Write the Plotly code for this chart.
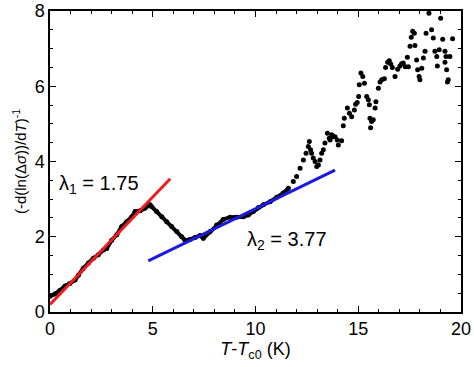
import plotly.graph_objects as go

# Dense low-temperature part of the data
dense_x = [0.0, 0.24, 0.49, 0.73, 0.97, 1.22, 1.38, 1.62, 1.87, 2.11, 2.35, 2.60, 2.76, 3.0,
           3.25, 3.49, 3.73, 3.98, 4.14, 4.38, 4.62, 4.87, 4.95, 5.19, 5.44, 5.68, 5.92, 6.17,
           6.41, 6.57, 6.81, 7.06, 7.30, 7.46, 7.79, 8.11, 8.43, 8.76, 9.08, 9.41, 9.65, 9.89,
           10.14, 10.38, 10.71, 11.03, 11.35, 11.6]
dense_y = [0.42, 0.48, 0.58, 0.69, 0.76, 0.85, 0.98, 1.16, 1.30, 1.43, 1.52, 1.65, 1.69, 1.91,
           2.05, 2.27, 2.40, 2.53, 2.67, 2.69, 2.76, 2.85, 2.80, 2.67, 2.53, 2.40, 2.27, 2.14,
           2.0, 1.91, 1.93, 1.98, 2.03, 1.96, 2.14, 2.31, 2.46, 2.52, 2.52, 2.53, 2.58, 2.67,
           2.78, 2.85, 2.93, 3.05, 3.16, 3.29]

# Sparse high-temperature points
sparse_x = [11.84, 12.0, 12.17, 12.33, 12.46, 12.57, 12.62, 12.68, 12.73, 12.81, 12.90, 12.98,
            13.06, 13.14, 13.22, 13.30, 13.38, 13.50, 13.59, 13.63, 13.71, 13.79, 13.87, 13.98,
            14.03, 14.19, 14.27, 14.32, 14.47, 14.57, 14.68, 14.81, 14.87, 14.95, 15.02, 15.05,
            15.13, 15.22, 15.30, 15.41, 15.49, 15.54, 15.57, 15.60, 15.65, 15.73, 15.82, 15.86,
            15.98, 16.06, 16.14, 16.27, 16.33, 16.43, 16.51, 16.58, 16.66, 16.79, 16.92, 17.03,
            17.11, 17.19, 17.29, 17.39, 17.44, 17.52, 17.58, 17.65, 17.73, 17.76, 17.84, 17.89,
            17.96, 18.0, 18.09, 18.17, 18.25, 18.30, 18.44, 18.57, 18.65, 18.73, 18.82, 18.85,
            18.94, 19.01, 19.11, 19.22, 19.27, 19.30, 19.22, 19.34, 19.38, 19.46, 19.59]
sparse_y = [3.47, 3.60, 3.82, 4.04, 4.22, 4.40, 4.53, 4.31, 4.22, 4.09, 4.00, 3.87,
            3.91, 4.04, 4.22, 4.31, 4.49, 4.75, 4.62, 4.57, 4.71, 4.66, 4.66, 4.57,
            4.44, 4.55, 4.95, 5.15, 5.42, 5.28, 5.19, 5.37, 5.52, 5.57, 5.73, 6.04,
            6.35, 6.26, 6.08, 5.73, 5.64, 5.51, 5.15, 4.90, 5.06, 5.11, 5.42, 5.59,
            5.95, 6.11, 6.17, 6.20, 6.50, 6.64, 6.68, 6.59, 6.50, 6.26, 6.45, 6.54,
            6.60, 6.62, 6.52, 6.77, 6.52, 7.06, 7.30, 7.46, 7.41, 7.08, 6.70, 6.44,
            6.26, 6.17, 6.48, 6.75, 6.93, 7.41, 7.94, 7.50, 7.28, 6.93, 6.79, 6.54,
            6.97, 7.81, 7.25, 6.93, 6.79, 6.44, 6.64, 6.11, 6.17, 6.79, 7.26]

# Fit lines
lam1 = 1.75
red_x = [0.0, 5.85]
red_y = [0.2 + x / lam1 for x in red_x]
lam2 = 3.77
blue_x = [4.78, 13.87]
blue_y = [1.36 + (x - 4.78) / lam2 for x in blue_x]

fig = go.Figure()
fig.add_trace(go.Scatter(x=dense_x, y=dense_y, mode="lines+markers",
                         line=dict(color="black", width=4),
                         marker=dict(color="black", size=5)))
fig.add_trace(go.Scatter(x=sparse_x, y=sparse_y, mode="markers",
                         marker=dict(color="black", size=5)))
fig.add_trace(go.Scatter(x=red_x, y=red_y, mode="lines",
                         line=dict(color="#ee1c1c", width=3)))
fig.add_trace(go.Scatter(x=blue_x, y=blue_y, mode="lines",
                         line=dict(color="#1a1ae0", width=3)))

FAM = "Liberation Sans, Arial, sans-serif"
tickfont = dict(family=FAM, size=18, color="black")

fig.add_annotation(x=0.35, y=3.38, xanchor="left", yanchor="middle", showarrow=False,
                   text="λ<sub>1</sub> = 1.75", font=dict(family=FAM, size=20, color="black"))
fig.add_annotation(x=9.5, y=1.91, xanchor="left", yanchor="middle", showarrow=False,
                   text="λ<sub>2</sub> = 3.77", font=dict(family=FAM, size=20, color="black"))

axis_common = dict(showline=True, linecolor="black", linewidth=1.5, mirror="ticks",
                   ticks="inside", ticklen=6, tickwidth=1.2, tickcolor="black",
                   showgrid=False, zeroline=False, tickfont=tickfont, automargin=False)

fig.update_xaxes(range=[0, 20], tick0=0, dtick=5,
                 minor=dict(ticks="inside", ticklen=3, dtick=1, tickcolor="black", tickwidth=1),
                 title=dict(text="<i>T</i>-<i>T</i><sub>c0</sub> (K)",
                            font=dict(family=FAM, size=18, color="black"), standoff=4),
                 **axis_common)
fig.update_yaxes(range=[0, 8], tick0=0, dtick=2,
                 minor=dict(ticks="inside", ticklen=3, dtick=0.5, tickcolor="black", tickwidth=1),
                 title=dict(text="(-d(ln(Δ<i>σ</i>))/d<i>T</i>)<sup>-1</sup>",
                            font=dict(family=FAM, size=15, color="black"), standoff=4),
                 **axis_common)

fig.update_layout(width=474, height=367, showlegend=False,
                  margin=dict(l=50, r=13, t=11, b=55),
                  plot_bgcolor="white", paper_bgcolor="white")

fig.write_html("out.html", config={"displayModeBar": False},
               post_script="document.body.style.margin='0';document.body.style.padding='0';")
